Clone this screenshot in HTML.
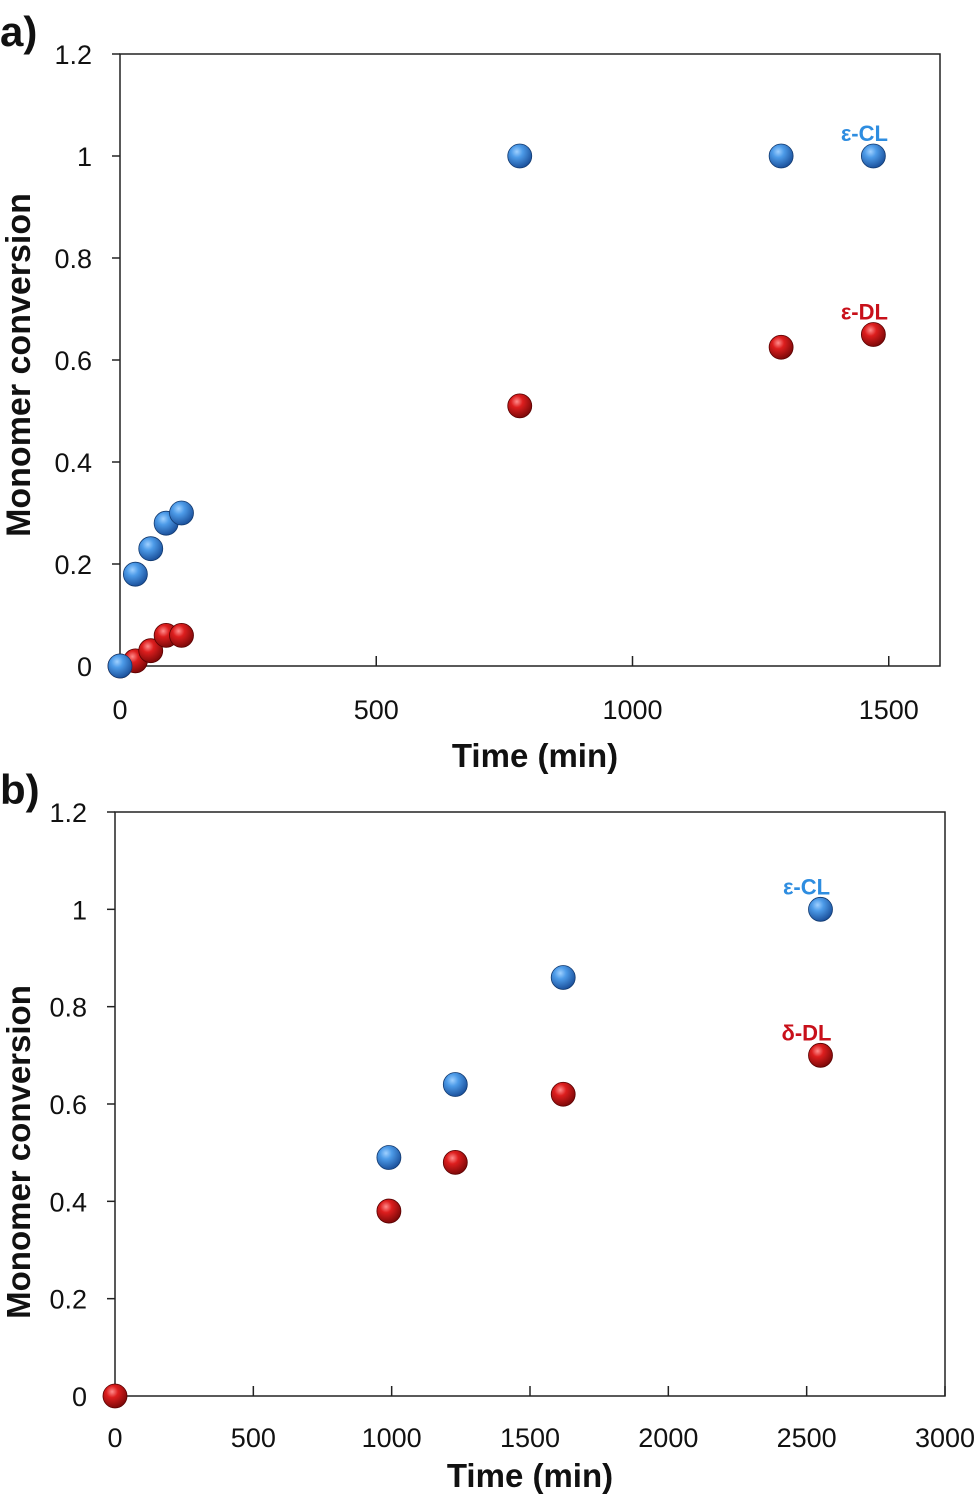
<!DOCTYPE html>
<html><head><meta charset="utf-8"><style>
body{margin:0;background:#fff;}
svg{display:block;font-family:"Liberation Sans",sans-serif;}
</style></head><body>
<svg id="s" width="979" height="1497" viewBox="0 0 979 1497" xmlns="http://www.w3.org/2000/svg">
<defs>
<radialGradient id="gb" cx="0.38" cy="0.32" r="0.7"><stop offset="0" stop-color="#9fd0ff"/><stop offset="0.35" stop-color="#4d9be8"/><stop offset="1" stop-color="#1a4f9a"/></radialGradient>
<radialGradient id="gr" cx="0.38" cy="0.32" r="0.7"><stop offset="0" stop-color="#ff8c8c"/><stop offset="0.35" stop-color="#dd1e1e"/><stop offset="1" stop-color="#7a0808"/></radialGradient>
</defs>
</svg>
<script>
const aTimeCL=[0,30,60,90,120,780,1290,1470];
const aCL=[0,0.18,0.23,0.28,0.30,1,1,1];
const aTimeDL=[0,30,60,90,120,780,1290,1470];
const aDL=[0,0.01,0.03,0.06,0.06,0.51,0.625,0.65];
const aXTicks=[0,500,1000,1500];
const bTimeCL=[990,1230,1620,2550];
const bCL=[0.49,0.64,0.86,1];
const bTimeDL=[0,990,1230,1620,2550];
const bDL=[0,0.38,0.48,0.62,0.70];
const bXTicks=[0,500,1000,1500,2000,2500,3000];
const yTicks=[0,0.2,0.4,0.6,0.8,1,1.2];
const NS="http://www.w3.org/2000/svg";
const svg=document.getElementById('s');
function el(t,a,p){const e=document.createElementNS(NS,t);for(const k in a)e.setAttribute(k,a[k]);(p||svg).appendChild(e);return e;}
function panel(cfg){
  const g=el('g',{});
  
  
  const X=v=>cfg.x0+(v-cfg.xmin)/(cfg.xmax-cfg.xmin)*(cfg.x1-cfg.x0);
  const Y=v=>cfg.y0-v/1.2*(cfg.y0-cfg.y1);
  const box=el('rect',{x:cfg.x0,y:cfg.y1,width:cfg.x1-cfg.x0,height:cfg.y0-cfg.y1,fill:'none',stroke:'#222','stroke-width':1.5},g);
  
  yTicks.forEach(v=>{
    el('line',{x1:cfg.x0-8,x2:cfg.x0,y1:Y(v),y2:Y(v),stroke:'#222','stroke-width':1.5},g);
    const t=el('text',{x:cfg.x0-28,y:Y(v)+10,'text-anchor':'end','font-size':27,fill:'#111'},g);
    t.textContent=String(v);
    
  });
  cfg.xt.forEach(v=>{
    el('line',{x1:X(v),x2:X(v),y1:cfg.y0,y2:cfg.y0-10,stroke:'#222','stroke-width':1.5},g);
    const t=el('text',{x:X(v),y:cfg.y0+cfg.tickDy,'text-anchor':'middle','font-size':27,fill:'#111'},g);
    t.textContent=String(v);
    
  });
  const xt=el('text',{x:cfg.xtX,y:cfg.y0+cfg.titleDy,'text-anchor':'middle','font-size':33,'font-weight':'bold',fill:'#111'},g);
  xt.textContent='Time (min)';
  const cy=(cfg.y0+cfg.y1)/2+cfg.ytShift;
  const yt=el('text',{x:0,y:0,transform:`translate(30,${cy}) rotate(-90)`,'text-anchor':'middle','font-size':cfg.ytSize,'font-weight':'bold',fill:'#111'},g);
  yt.textContent='Monomer conversion';
  const pl=el('text',{x:0,y:cfg.y1-8,'font-size':42,'font-weight':'bold',fill:'#111'},g);
  pl.textContent=cfg.label;
  cfg.dlx.forEach((v,i)=>{
    const c=el('circle',{cx:X(v),cy:Y(cfg.dly[i]),r:12,fill:'url(#gr)',stroke:'#5a0000','stroke-width':0.8},g);
    
  });
  cfg.clx.forEach((v,i)=>{
    const c=el('circle',{cx:X(v),cy:Y(cfg.cly[i]),r:12,fill:'url(#gb)',stroke:'#123a70','stroke-width':0.8},g);
    
  });
  const lc=el('text',{x:X(cfg.clx[cfg.clx.length-1])-cfg.lblShift,y:Y(cfg.cly[cfg.cly.length-1])-15,'text-anchor':'middle','font-size':22,'font-weight':'bold',fill:'#2e8de0'},g);
  lc.textContent='ε-CL';
  const ld=el('text',{x:X(cfg.dlx[cfg.dlx.length-1])-cfg.lblShift,y:Y(cfg.dly[cfg.dly.length-1])-15,'text-anchor':'middle','font-size':22,'font-weight':'bold',fill:'#c8101a'},g);
  ld.textContent=cfg.dlName;
}
panel({name:'chart-a',label:'a)',x0:120,x1:940,xmin:0,xmax:1600,y0:666,y1:54,xt:aXTicks,clx:aTimeCL,cly:aCL,dlx:aTimeDL,dly:aDL,dlName:'ε-DL',tickDy:53,titleDy:101,xtX:535,ytShift:5,ytSize:34,lblShift:9});
panel({name:'chart-b',label:'b)',x0:115,x1:945,xmin:0,xmax:3000,y0:1396,y1:812,xt:bXTicks,clx:bTimeCL,cly:bCL,dlx:bTimeDL,dly:bDL,dlName:'δ-DL',tickDy:51,titleDy:91,xtX:530,ytShift:48,ytSize:33,lblShift:14});
</script>
</body></html>
